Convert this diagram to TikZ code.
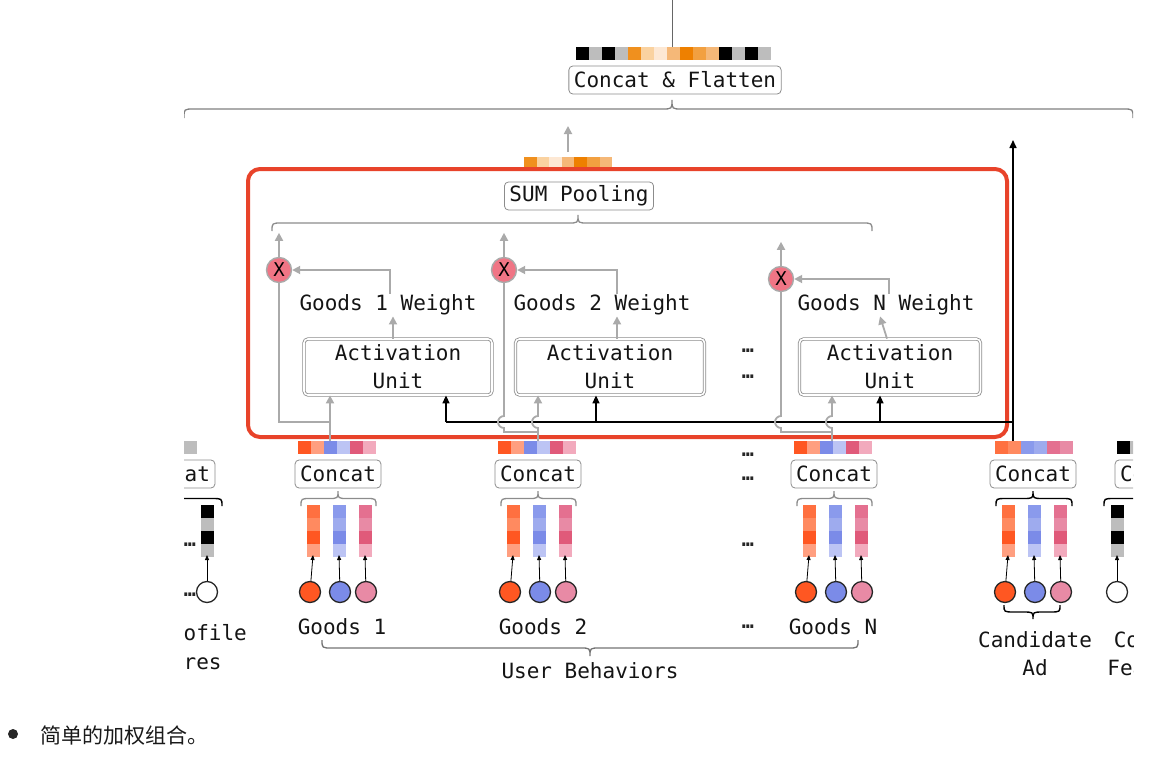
\documentclass[tikz,border=0pt]{standalone}
\usepackage{fontspec}
\setmainfont{DejaVu Sans Mono}
\newfontfamily\cjk{Noto Sans CJK SC}
\usetikzlibrary{arrows.meta,calc}
\definecolor{oA}{HTML}{FF5722}\definecolor{oB}{HTML}{FF9F80}
\definecolor{oC}{HTML}{FF7040}\definecolor{oD}{HTML}{FF8A60}
\definecolor{bA}{HTML}{7B8BE8}\definecolor{bB}{HTML}{BCC4F4}
\definecolor{bC}{HTML}{8A9AEC}\definecolor{bD}{HTML}{9EABEE}
\definecolor{pA}{HTML}{E05A7A}\definecolor{pB}{HTML}{F2AABD}
\definecolor{pC}{HTML}{E47090}\definecolor{pD}{HTML}{E88AA5}
\definecolor{fA}{HTML}{F0901E}\definecolor{fB}{HTML}{FAD2A0}
\definecolor{fC}{HTML}{FDE8D4}\definecolor{fD}{HTML}{F5B878}
\definecolor{fE}{HTML}{EE8000}\definecolor{fF}{HTML}{F2A040}
\definecolor{gs}{HTML}{BDBDBD}\definecolor{lg}{HTML}{AAAAAA}
\definecolor{red}{HTML}{E8432A}\definecolor{xpink}{HTML}{F07585}
\newcommand\mybrace[6]{%
  \pgfmathsetmacro\bym{(#5+#6)/2}%
  \draw[#1] (#2,#5) .. controls (#2,\bym) .. (#2+10,\bym) -- (#4-10,\bym)
    .. controls (#4,\bym) .. (#4,#6) .. controls (#4,\bym) .. (#4+10,\bym)
    -- (#3-10,\bym) .. controls (#3,\bym) .. (#3,#5);}
\tikzset{
  txt/.style={inner sep=1pt,font=\fontsize{21}{28}\selectfont,text=black!92},
  lbox/.style={draw=black!45,rounded corners=4pt,line width=0.8pt,inner xsep=5pt,inner ysep=2pt,minimum height=28pt,font=\fontsize{21}{28}\selectfont,text=black!92},
  au/.style={draw=black!45,double=white,double distance=1.6pt,rounded corners=4pt,line width=0.8pt,align=center,font=\fontsize{21}{28}\selectfont,text=black!92,minimum height=56pt},
  garrow/.style={draw=lg,line width=1.8pt,-{Triangle[length=8pt,width=8pt]}},
  gline/.style={draw=lg,line width=1.8pt},
  barrow/.style={draw=black,line width=1.5pt,-{Triangle[length=8pt,width=7pt]}},
  sarrow/.style={draw=black,line width=0.8pt,-{Triangle[length=5pt,width=4pt]}},
  xc/.style={circle,fill=xpink,draw=lg,line width=1.4pt,minimum size=25pt,inner sep=0pt,font=\fontsize{19}{20}\selectfont},
  emb/.style={circle,draw=black!85,line width=1.3pt,minimum size=21pt,inner sep=0pt},
  dots/.style={inner sep=0pt,font=\fontsize{20}{20}\selectfont\bfseries,text=black!85},
}
\begin{document}
\begin{tikzpicture}[x=1pt,y=-1pt]
\useasboundingbox (0,0) rectangle (1172,760);
\begin{scope}
\clip (184,0) rectangle (1133,700);
% top
\coordinate (topend) at (672,0);
\foreach[count=\i from 0] \c in {black,gs,black,gs,fA,fB,fC,fD,fE,fF,fD,black,gs,black,gs}
  \fill[\c] (576+13*\i,47) rectangle ++(13,13);
\coordinate (flatbar) at (672,47);
\draw[black!60,line width=0.8pt] (flatbar) -- (topend);
\node[lbox] (flat) at (675,80) {Concat \& Flatten};
\mybrace{black!50,line width=1.3pt}{184}{1133}{672}{118}{100}
% sum bar
\foreach[count=\i from 0] \c in {fA,fB,fC,fD,fE,fF,fD}
  \fill[\c] (524+12.6*\i,157) rectangle ++(12.6,11);
\coordinate (sumbar) at (568,152);
\coordinate (sumtip) at (568,126);
\draw[garrow] (sumbar) -- (sumtip);
% red box
\draw[red,line width=4pt,rounded corners=12pt] (248,169) rectangle (1007,437);
\node[lbox] (sum) at (579,196) {SUM Pooling};
\mybrace{black!45,line width=1.3pt}{272}{872}{578}{231}{215}
% X nodes
\node[xc] (x1) at (279,270) {X};
\node[xc] (x2) at (504,270) {X};
\node[xc] (x3) at (781,279) {X};
\foreach \n in {x1,x2,x3} \draw[garrow] (\n.north) -- ++(0,-24);
% weights
\node[txt] (w1) at (388,305) {Goods 1 Weight};
\node[txt] (w2) at (602,305) {Goods 2 Weight};
\node[txt] (w3) at (886,305) {Goods N Weight};
\draw[garrow] ($(w1.north)+(2,0)$) |- (x1);
\draw[garrow] ($(w2.north)+(15,0)$) |- (x2);
\draw[garrow] ($(w3.north)+(3,0)$) |- (x3);
% activation units
\node[au,minimum width=188pt] (a1) at (398,367) {Activation\\Unit};
\node[au,minimum width=189pt] (a2) at (610,367) {Activation\\Unit};
\node[au,minimum width=181pt] (a3) at (890,367) {Activation\\Unit};
\draw[garrow] ($(a1.north)+(-5,0)$) -- ($(w1.south)+(5,0)$);
\draw[garrow] ($(a2.north)+(7,0)$) -- ($(w2.south)+(15,0)$);
\draw[garrow] ($(a3.north)+(-3,0)$) -- ($(w3.south)+(-6,0)$);
\node[dots] (d1) at (748,351) {…};
\node[dots] (d2) at (748,377) {…};
% concat groups
\foreach \g/\c in {g1/338,g2/538,gn/834,ca/1033}{
  \node[lbox] (cc\g) at (\c,474) {Concat};
  \foreach \cc [count=\j from 0] in {oC,oD,oA,oB} \fill[\cc] (\c-31,505+13*\j) rectangle ++(13,13);
  \foreach \cc [count=\j from 0] in {bC,bD,bA,bB} \fill[\cc] (\c-5,505+13*\j) rectangle ++(13,13);
  \foreach \cc [count=\j from 0] in {pC,pD,pA,pB} \fill[\cc] (\c+21,505+13*\j) rectangle ++(13,13);
  \node[emb,fill=oA] (e1\g) at (\c-28,592) {};
  \node[emb,fill=bA] (e2\g) at (\c+2,592) {};
  \node[emb,fill=pD] (e3\g) at (\c+28,592) {};
  \coordinate (v1\g) at (\c-25,557);
  \coordinate (v2\g) at (\c+1,557);
  \coordinate (v3\g) at (\c+27,557);
  \foreach \k in {1,2,3} \draw[sarrow] (e\k\g) -- ([yshift=2pt]v\k\g);
}
\foreach \g/\c in {g1/338,g2/538,gn/834}{
  \foreach \cc [count=\i from 0] in {oA,oB,bA,bB,pA,pB} \fill[\cc] (\c-40+13*\i,441) rectangle ++(13,13);
  \mybrace{black!45,line width=1.3pt}{\c-37}{\c+38}{\c}{506}{491}
}
\foreach \cc [count=\i from 0] in {oC,oD,bC,bD,pC,pD} \fill[\cc] (995+13*\i,441) rectangle ++(13,13);
\mybrace{black,line width=1.4pt}{996}{1072}{1033}{506}{491}
\mybrace{black,line width=1.4pt}{1004}{1060}{1033}{605}{619}
% partial left / right
\foreach \cc [count=\i from 0] in {black,gs,black,gs,black,gs} \fill[\cc] (119+13*\i,441) rectangle ++(13,13);
\node[lbox] (ccL) at (172,474) {Concat};
\foreach \cc [count=\j from 0] in {black,gs,black,gs} \fill[\cc] (201,505+13*\j) rectangle ++(13,13);
\node[emb,fill=white] (eL) at (207,592) {};
\coordinate (vL) at (207,557);
\draw[sarrow] (eL) -- ([yshift=2pt]vL);
\mybrace{black,line width=1.4pt}{120}{222}{171}{506}{491}
\node[txt] (pf) at (171,633) {User Profile};
\node[txt] (pf2) at (171,662) {Features};
\node[dots] (dl1) at (190,545) {…};
\node[dots] (dl2) at (190,595) {…};
\foreach \cc [count=\i from 0] in {black,gs,black,gs,black,gs} \fill[\cc] (1117+13*\i,441) rectangle ++(13,13);
\node[lbox] (ccR) at (1158,474) {Concat};
\foreach \cc [count=\j from 0] in {black,gs,black,gs} \fill[\cc] (1111,505+13*\j) rectangle ++(13,13);
\node[emb,fill=white] (eR) at (1117,592) {};
\coordinate (vR) at (1117,557);
\draw[sarrow] (eR) -- ([yshift=2pt]vR);
\mybrace{black,line width=1.4pt}{1104}{1210}{1157}{506}{491}
\node[txt] (cf) at (1158,640) {Context};
\node[txt] (cf2) at (1158,668) {Features};
% labels
\node[txt] (l1) at (342,627) {Goods 1};
\node[txt] (l2) at (543,627) {Goods 2};
\node[txt] (l3) at (833,627) {Goods N};
\node[dots] (dd1) at (748,627) {…};
\node[dots] (dd2) at (748,455) {…};
\node[dots] (dd3) at (748,479) {…};
\node[dots] (dd4) at (748,545) {…};
\mybrace{black!55,line width=1.3pt}{322}{858}{590}{640}{656}
\node[txt] (ub) at (590,671) {User Behaviors};
\node[txt] (cd) at (1035,640) {Candidate};
\node[txt] (cd2) at (1035,668) {Ad};
% wiring
\coordinate (f1) at (330,441);
\coordinate (f2) at (538,441);
\coordinate (f3) at (832,441);
\coordinate (cand) at (1013,441);
\coordinate (candtip) at (1013,140);
\draw[gline] (x1.south) |- (f1 |- 0,422);
\draw[garrow] (f1) -- (f1 |- a1.south);
\draw[barrow] (cand) -- (candtip);
\draw[black,line width=1.5pt] (446,422) -- (1013,422);
\draw[barrow] (446,422) -- (a1.south -| 446,0);
\draw[barrow] (596,422) -- (a2.south -| 596,0);
\draw[barrow] (880,422) -- (a3.south -| 880,0);
\draw[gline] (x2.south) -- (504,416) arc[start angle=270,end angle=90,radius=6] -- (504,432) -- (538,432);
\draw[garrow] (f2) -- (538,428) arc[start angle=90,end angle=270,radius=6] -- (f2 |- a2.south);
\draw[gline] (x3.south) -- (781,416) arc[start angle=270,end angle=90,radius=6] -- (781,432) -- (832,432);
\draw[garrow] (f3) -- (832,428) arc[start angle=90,end angle=270,radius=6] -- (f3 |- a3.south);
\end{scope}
% bottom
\fill[black!85] (13,734) circle (5);
\node[anchor=west,inner sep=0pt,font=\cjk\fontsize{21}{24}\selectfont,text=black!90] (cn) at (40,736) {简单的加权组合。};
\end{tikzpicture}
\end{document}
